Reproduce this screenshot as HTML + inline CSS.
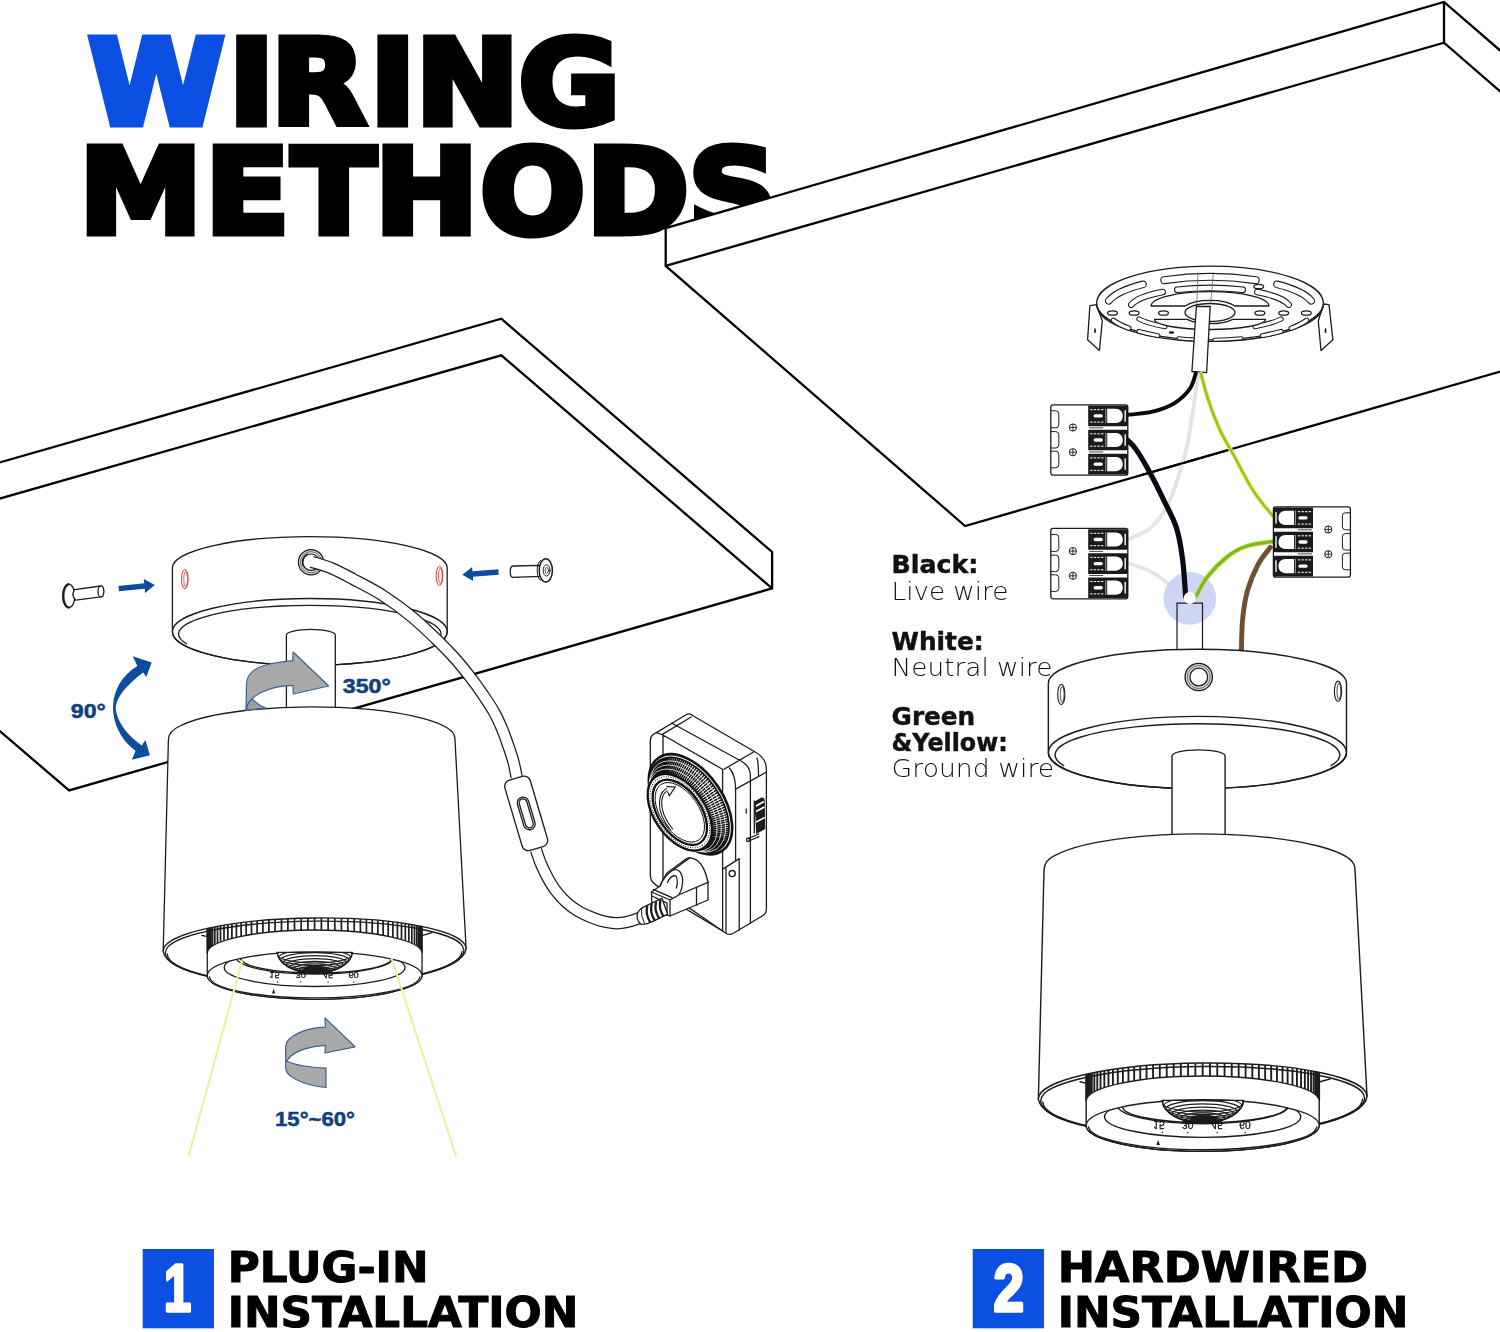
<!DOCTYPE html>
<html lang="en"><head><meta charset="utf-8"><title>Wiring Methods</title>
<style>
html,body{margin:0;padding:0;background:#fff;}
body{width:1500px;height:1332px;overflow:hidden;font-family:"Liberation Sans","DejaVu Sans",sans-serif;}
svg{display:block;}
.ln{fill:none;stroke:#1c1c1c;stroke-width:1.3;stroke-linecap:round;stroke-linejoin:round;}
.lw{fill:#fff;stroke:#1c1c1c;stroke-width:1.3;stroke-linecap:round;stroke-linejoin:round;}
.pn{fill:#fff;stroke:#000;stroke-width:2.3;stroke-linejoin:miter;}
.pl{fill:none;stroke:#000;stroke-width:2.3;stroke-linejoin:miter;stroke-linecap:butt;}
</style></head><body>
<svg width="1500" height="1332" viewBox="0 0 1500 1332">
<rect width="1500" height="1332" fill="#fff"/>
<!-- TITLE -->
<defs><linearGradient id="wg" gradientUnits="userSpaceOnUse" x1="0" y1="0" x2="1500" y2="0">
<stop offset="0" stop-color="#0c4fe3"/><stop offset="0.14825" stop-color="#0c4fe3"/><stop offset="0.14825" stop-color="#000"/><stop offset="1" stop-color="#000"/></linearGradient></defs>
<g font-family="'DejaVu Sans','Liberation Sans',sans-serif" font-weight="bold" font-size="118" stroke-width="7" stroke-linejoin="miter" stroke-miterlimit="2">
<text transform="translate(0,124.4) scale(1.05,1)" x="83.81 217.71 257.9 352.19 395.62 493.71" y="0" fill="url(#wg)" stroke="url(#wg)">WIRING</text>
<text transform="translate(0,233.4) scale(1.05,1)" x="75.24 195.29 277.62 356.9 457.24 558.29 655.33" y="0" fill="#000" stroke="#000" style="filter:grayscale(1)">METHODS</text>
</g>

<!-- CEILING PANELS -->
<g id="panel-left">
<path class="pn" d="M-5,463.8 L501.3,318.7 L772.1,552 L772.1,588.4 L69.1,790.4 L-5,727 Z"/>
<path class="pl" d="M-5,500 L501.3,355.3 L772.1,588.4"/>
</g>
<g id="panel-right">
<path class="pn" d="M665.7,228.1 L1444,2 L1510,59 L1510,368.7 L965.1,526 L665.7,265.9 Z"/>
<path class="pl" d="M665.7,265.9 L1444,42.7 L1510,100"/>
<path class="pl" d="M1444,2 L1444,42.7"/>
</g>

<!-- FIXTURE (canopy + stem + lamp head), defined once, used twice -->
<defs>
<clipPath id="ringclip"><ellipse cx="314.65" cy="975.6" rx="107.4" ry="23.7"/></clipPath>
<clipPath id="lensclip"><rect x="270" y="952.2" width="90" height="30"/></clipPath>
<g id="fixture">
<path class="lw" d="M172.4,568 A137.4,31.4 0 0 1 447.2,568 L447.2,631.8 A137.4,33.3 0 0 1 172.4,631.8 Z"/>
<ellipse class="ln" cx="309.8" cy="631.8" rx="137.4" ry="33.3"/>
<path class="ln" d="M186.5,643.8 A131.2,28.7 0 1 1 433.1,643.8"/>
<circle cx="311" cy="562.2" r="12.6" fill="#d9d9d9" stroke="#1c1c1c" stroke-width="1.2"/>
<circle cx="311" cy="562.2" r="10.6" fill="none" stroke="#555" stroke-width="0.8"/>
<circle cx="311" cy="562.2" r="8.2" fill="#fff" stroke="#1c1c1c" stroke-width="1.2"/>
<path class="lw" d="M286.4,635 A24.45,5.6 0 0 1 335.3,635 L335.3,712 L286.4,712 Z"/>
<path class="lw" d="M168.4,740 Q168.4,731 180,726 A143.2,31.5 0 0 1 454.9,738 L466.1,948.7 A151.5,36.8 -0.5 0 1 163.2,951.3 Z"/>
<g transform="rotate(-0.5 314.6 950)">
<path class="ln" d="M163.1,950 A151.5,32 0 0 1 466.1,950"/>
<path class="ln" stroke-width="1" d="M165.6,951 A149,29.8 0 0 1 463.6,951"/>
<path class="ln" stroke-width="1" d="M165.2,951.5 A149.4,34.6 0 0 0 464,951.5"/>
<path class="ln" stroke-width="1" d="M167.2,952.5 A147.4,32.6 0 0 0 462,952.5"/>
</g>
<path class="ln" stroke-width="1" d="M207.7,936.7 L201.7,935.3 M422.7,935.3 L432,932.7"/>
<path d="M207.2,928.4V953.2M207.5,928.3V951.7M208.1,928.2V950.3M209.2,927.9V948.9M210.6,927.6V947.4M212.5,927.2V946.0M214.8,926.8V944.7M217.5,926.3V943.3M220.5,925.7V942.0M224.0,925.1V940.8M227.8,924.5V939.6M231.9,923.9V938.4M236.4,923.3V937.3M241.1,922.7V936.3M246.2,922.0V935.3M251.5,921.5V934.4M257.1,920.9V933.6M262.9,920.4V932.9M268.9,919.9V932.2M275.1,919.4V931.6M281.5,919.1V931.1M287.9,918.7V930.7M294.5,918.5V930.4M301.2,918.2V930.2M307.9,918.1V930.0M314.6,918.0V930.0M321.4,918.0V930.0M328.1,918.0V930.2M334.8,918.1V930.4M341.4,918.3V930.7M347.8,918.5V931.1M354.2,918.8V931.6M360.4,919.1V932.2M366.4,919.5V932.9M372.2,919.9V933.6M377.8,920.4V934.4M383.1,920.9V935.3M388.2,921.4V936.3M392.9,921.9V937.3M397.4,922.5V938.4M401.5,923.0V939.6M405.3,923.6V940.8M408.8,924.1V942.0M411.8,924.6V943.3M414.5,925.1V944.7M416.8,925.5V946.0M418.7,925.8V947.4M420.1,926.1V948.9M421.2,926.3V950.3M421.8,926.5V951.7M422.0,926.5V953.2" fill="none" stroke="#1c1c1c" stroke-width="1.7"/>
<path d="M207.3,930.5 L211.5,928.8 L211.5,947 L207.3,953.2 Z" fill="#1c1c1c"/>
<path d="M422.2,928 L418,926.5 L418,946 L422.2,953.2 Z" fill="#1c1c1c"/>
<path class="lw" stroke-width="1.6" d="M207.25,953.2 A107.4,23.2 0 0 1 422.05,953.2 L422.05,975.6 A107.4,23.7 0 0 1 207.25,975.6 Z"/>
<ellipse class="lw" stroke-width="1.6" cx="314.65" cy="975.6" rx="107.4" ry="23.7"/>
<path class="ln" stroke-width="0.8" d="M209.5,977 A105.2,21.6 0 0 0 419.8,977"/>
<g clip-path="url(#ringclip)">
<ellipse class="ln" cx="314.6" cy="967.5" rx="90.4" ry="19"/>
<path class="ln" stroke-width="2.2" d="M240.6,958 A74,14.7 0 0 0 392.2,958"/>
<path class="ln" stroke-width="0.9" d="M236,957 A79,17 0 0 0 394,957"/>
</g>
<g clip-path="url(#lensclip)">
<ellipse cx="314.8" cy="952" rx="37.6" ry="21.2" fill="#fff" stroke="#1c1c1c" stroke-width="1.2"/>
<ellipse cx="314.8" cy="954.8" rx="37.2" ry="8.2" fill="none" stroke="#1c1c1c" stroke-width="1.1"/>
<ellipse cx="314.8" cy="957.5" rx="36.1" ry="8.0" fill="none" stroke="#1c1c1c" stroke-width="1.1"/>
<ellipse cx="314.8" cy="960.2" rx="34.2" ry="7.5" fill="none" stroke="#1c1c1c" stroke-width="1.1"/>
<ellipse cx="314.8" cy="962.6" rx="31.6" ry="7.0" fill="none" stroke="#1c1c1c" stroke-width="1.1"/>
<ellipse cx="314.8" cy="964.9" rx="28.4" ry="6.3" fill="none" stroke="#1c1c1c" stroke-width="1.1"/>
<ellipse cx="314.8" cy="966.8" rx="24.6" ry="5.4" fill="none" stroke="#1c1c1c" stroke-width="1.1"/>
<ellipse cx="314.8" cy="968.5" rx="20.3" ry="4.5" fill="none" stroke="#1c1c1c" stroke-width="1.1"/>
<ellipse cx="314.8" cy="969.8" rx="15.5" ry="3.4" fill="none" stroke="#1c1c1c" stroke-width="1.1"/>
<ellipse cx="314.8" cy="970.8" rx="10.5" ry="2.3" fill="none" stroke="#1c1c1c" stroke-width="1.1"/>
<ellipse cx="314.8" cy="971.4" rx="5.2" ry="1.2" fill="none" stroke="#1c1c1c" stroke-width="1.1"/>
<ellipse cx="315.5" cy="969.6" rx="13" ry="3.6" fill="#1c1c1c"/>
</g>
<path class="ln" d="M277,952.4 L352.4,952.4"/>
<g font-family="'Liberation Sans',sans-serif" font-size="9.4" fill="#111" stroke="#111" stroke-width="0.25" text-anchor="middle" style="filter:grayscale(1)">
<text transform="translate(274.4,971.6) scale(1,-1)" x="0" y="0">15</text>
<text transform="translate(300.8,971.6) scale(1,-1)" x="0" y="0">30</text>
<text transform="translate(328,971.6) scale(1,-1)" x="0" y="0">45</text>
<text transform="translate(353.6,971.6) scale(1,-1)" x="0" y="0">60</text>
</g>
<circle cx="277.5" cy="982" r="0.7" fill="#1c1c1c"/>
<circle cx="300.8" cy="982" r="0.7" fill="#1c1c1c"/>
<circle cx="328" cy="982" r="0.7" fill="#1c1c1c"/>
<circle cx="353.8" cy="982" r="0.7" fill="#1c1c1c"/>
<path d="M273.6,988.6 L275.2,993.6 L272,993.6 Z" fill="#1c1c1c"/>
</g>
</defs>
<!-- LEFT: plug-in installation -->
<g id="left-scene">
<use href="#fixture"/>
<ellipse cx="184.8" cy="579.1" rx="3.3" ry="9.6" fill="none" stroke="#cf3a3a" stroke-width="1"/>
<ellipse cx="185.60000000000002" cy="579.1" rx="1.8" ry="7.6" fill="none" stroke="#cf3a3a" stroke-width="0.8"/>
<ellipse cx="439.5" cy="575.9" rx="3.3" ry="9.6" fill="none" stroke="#cf3a3a" stroke-width="1"/>
<ellipse cx="440.3" cy="575.9" rx="1.8" ry="7.6" fill="none" stroke="#cf3a3a" stroke-width="0.8"/>
<path d="M242.2,960.4 L188.6,1156.4" stroke="#edf0a2" stroke-width="2.1" fill="none"/>
<path d="M391.4,958 L456.2,1156.4" stroke="#edf0a2" stroke-width="2.1" fill="none"/>
<g fill="#a9a9a9" stroke="#3b6291" stroke-width="1.2" stroke-linejoin="round">
<path d="M247.3,705.3 C248.5,702 250,700 252,698.7 C255,702 260,706 266,708.1 L246,710.2 Z" fill="#9a9fa6"/>
<path d="M246,710.2 L246.5,684 C247,672 258,666 272,663.5 C280,662 287,661.2 292.7,660.7 L293.1,652 L328.7,686 L293.3,694 L293.1,685.3 C283,685.5 270,688 260,693 C253,697 249,701 247.3,705.3 Z"/>
</g>
<g fill="#a9a9a9" stroke="#3b6291" stroke-width="1.2" stroke-linejoin="round">
<path d="M285.7,1061 L285.7,1068.5 C286,1073 290,1076.5 296,1079.5 C304,1083.5 314,1086.5 326,1087.5 L326,1068.1 C312,1067.5 296,1065.5 286.8,1061.3 Z"/>
<path d="M325.4,1027.2 L325,1017.9 L355,1046.8 L325,1053 L325.4,1045.4 C312,1046 298,1050 291,1056 C289,1058 287.5,1060 286.8,1061.3 L285.7,1061 L285.7,1046 C287,1036 305,1028 325.4,1027.2 Z"/>
</g>
<g fill="#0d4da0">
<path d="M132.8,656.2 L151.7,662.5 L146.3,676.9 L143.1,672.4 C128,684 116.5,696 115.7,707.6 C116.5,722 128,736 141.8,745.4 L145.4,740 L149.9,755.3 L131.9,759.8 L135.5,750.8 C120,740 113,722 113,707.6 C113,692 121,676 137.3,666.1 Z"/>
<path transform="translate(118.7,588.6) rotate(-5.7)" d="M0,-2.7 L25.9,-2.7 L25.9,-7 L36.3,0 L25.9,7 L25.9,2.7 L0,2.7 Z"/>
<path transform="translate(498.5,572) rotate(175.7)" d="M0,-2.7 L25.9,-2.7 L25.9,-7 L36.3,0 L25.9,7 L25.9,2.7 L0,2.7 Z"/>
</g>
<g font-family="'Liberation Sans',sans-serif" font-weight="bold" font-size="19.5" fill="#10417f" stroke="#10417f" stroke-width="0.5">
<text x="70.8" y="717.6" textLength="35" lengthAdjust="spacingAndGlyphs">90°</text>
<text x="342.8" y="692.6" textLength="48" lengthAdjust="spacingAndGlyphs">350°</text>
<text x="275" y="1126.4" textLength="80" lengthAdjust="spacingAndGlyphs">15°~60°</text>
</g>
<g class="lw" stroke-width="1.2">
<ellipse cx="68.8" cy="595.9" rx="6" ry="11.7"/>
<path d="M68.2,584.3 A5.9,11.7 0 0 0 68.6,607.5" fill="none" stroke-width="2.3"/>
<path d="M74.6,589.6 L100.9,586 A2.7,5.4 0 0 1 100.9,596.8 L75.8,600.2 Q70.6,595 74.6,589.6 Z"/>
<ellipse cx="100.9" cy="591.4" rx="2.9" ry="5.5"/>
<path d="M540,565.3 L513,566 Q510.2,566.2 510.2,571.7 Q510.2,577.2 513,577.3 L540,576.4 Z"/>
<ellipse cx="545.8" cy="570.4" rx="6.6" ry="11.7" stroke-width="1.5"/>
<ellipse cx="546.6" cy="570.4" rx="3.4" ry="5.6" stroke-width="1"/>
<ellipse cx="546.8" cy="570.4" rx="1.7" ry="2.8" stroke-width="0.8"/>
<path d="M540.6,560.3 A5,10.6 0 0 0 540.6,580.4" fill="none" stroke-width="1"/>
</g>
<path d="M311.7,561.8 C315.1,562.9 325.0,565.6 332.0,568.5 C339.0,571.4 345.2,574.9 353.7,579.4 C362.2,583.9 373.2,589.3 383.0,595.6 C392.8,601.9 402.8,609.3 412.2,617.1 C421.6,624.9 432.5,635.6 439.6,642.5 C446.7,649.4 450.0,652.9 455.0,658.5 C460.0,664.1 464.8,670.1 469.4,676.0 C474.0,681.9 478.4,688.0 482.5,694.0 C486.6,700.0 490.8,706.1 494.1,712.1 C497.4,718.1 500.0,724.0 502.5,730.0 C505.0,736.0 507.3,742.8 509.1,748.1 C510.9,753.4 512.2,757.2 513.5,762.0 C514.8,766.8 516.1,774.5 516.6,777.0" fill="none" stroke="#1c1c1c" stroke-width="12.4" stroke-linecap="butt"/>
<path d="M311.7,561.8 C315.1,562.9 325.0,565.6 332.0,568.5 C339.0,571.4 345.2,574.9 353.7,579.4 C362.2,583.9 373.2,589.3 383.0,595.6 C392.8,601.9 402.8,609.3 412.2,617.1 C421.6,624.9 432.5,635.6 439.6,642.5 C446.7,649.4 450.0,652.9 455.0,658.5 C460.0,664.1 464.8,670.1 469.4,676.0 C474.0,681.9 478.4,688.0 482.5,694.0 C486.6,700.0 490.8,706.1 494.1,712.1 C497.4,718.1 500.0,724.0 502.5,730.0 C505.0,736.0 507.3,742.8 509.1,748.1 C510.9,753.4 512.2,757.2 513.5,762.0 C514.8,766.8 516.1,774.5 516.6,777.0" fill="none" stroke="#fff" stroke-width="9.9" stroke-linecap="round"/>
<path d="M536.0,850.0 C536.8,852.3 539.0,859.3 541.0,864.0 C543.0,868.7 545.5,873.9 548.0,878.4 C550.5,882.9 552.9,887.0 556.0,891.0 C559.1,895.0 562.7,899.1 566.4,902.4 C570.1,905.7 573.7,908.5 578.0,911.0 C582.3,913.5 587.7,915.9 592.0,917.6 C596.3,919.4 600.0,920.6 604.0,921.5 C608.0,922.4 612.2,923.1 616.0,923.2 C619.8,923.3 623.2,922.8 627.0,922.0 C630.8,921.2 637.0,918.9 639.0,918.3" fill="none" stroke="#1c1c1c" stroke-width="12.4" stroke-linecap="butt"/>
<path d="M536.0,850.0 C536.8,852.3 539.0,859.3 541.0,864.0 C543.0,868.7 545.5,873.9 548.0,878.4 C550.5,882.9 552.9,887.0 556.0,891.0 C559.1,895.0 562.7,899.1 566.4,902.4 C570.1,905.7 573.7,908.5 578.0,911.0 C582.3,913.5 587.7,915.9 592.0,917.6 C596.3,919.4 600.0,920.6 604.0,921.5 C608.0,922.4 612.2,923.1 616.0,923.2 C619.8,923.3 623.2,922.8 627.0,922.0 C630.8,921.2 637.0,918.9 639.0,918.3" fill="none" stroke="#fff" stroke-width="9.9" stroke-linecap="round"/>
<path d="M303.6,566.5 A8.8,8.8 0 0 1 308,553.9" fill="none" stroke="#1c1c1c" stroke-width="1.2"/>
<g transform="translate(526.2,813.4) rotate(-16.5)">
<rect class="lw" x="-13.2" y="-36.6" width="26.4" height="73.2" rx="6.5" ry="6.5"/>
<rect class="lw" x="-5.8" y="-16.8" width="11.6" height="33.6" rx="5.8" ry="5.8"/>
<rect class="ln" x="-3.9" y="-14.9" width="7.8" height="29.8" rx="3.9" ry="3.9" stroke-width="0.9"/>
</g>
</g>
<!-- TIMER + PLUG -->
<g id="timer">
<path class="lw" stroke-width="1.4" d="M650.3,741 Q650.3,735 656.4,732.6 L687,714.3 Q690,712.8 693,715.8 L755.6,752.3 Q766.4,758.5 766.4,769 L766.4,909 Q766.4,913.5 762.6,915.8 L733,933.5 Q729,935.5 725.1,932.7 L655.7,884.9 Q650.3,881 650.3,875 Z"/>
<path class="ln" stroke-width="1.2" d="M662.4,734.4 L691.2,717 M663,735 L663,889.5 M656.4,732.6 L663,735 L722.5,769.3 M672,723.3 L741,761 Q750.4,766 750.4,776 L750.4,923 M722.6,769.5 L722.6,931 M724,769.2 L753.5,752 M735.6,789.1 L766.1,772.3 M729.3,768 Q735.6,775 735.6,789.1 L735.6,861 M723.2,868.9 L739.2,858.6 L739.2,930 M757,758 Q758.5,762 758.5,776.5"/>
<circle class="ln" cx="732.2" cy="873.6" r="3.1" stroke-width="1.1"/>
<path class="ln" stroke-width="2" d="M687,909.6 L721,930"/>
<path class="ln" stroke-width="1" d="M726,868 L726,932.6"/>
<path d="M754.5,801.5 L761.5,797.5 Q764.5,797 764.8,801 L765.2,829 L756.2,834 Z" fill="#1c1c1c"/>
<path d="M756,806 L764,801.5 M756,811.5 L764.5,807 M756.2,822 L764.8,817.5" stroke="#fff" stroke-width="1.6" fill="none"/>
<path class="ln" stroke-width="1.1" d="M754.3,801 L754.3,833 M748.2,838.5 L758.8,834 M748.8,841 L759,836.6"/>
<ellipse class="ln" cx="748" cy="839.8" rx="1.5" ry="1.9" stroke-width="1"/>
<path class="ln" stroke-width="0.9" d="M746.2,809 L746.2,813"/>
<g>
<ellipse cx="690.5" cy="804.2" rx="56.3" ry="32.6" transform="rotate(55.6 690.5 804.2)" fill="#fff" stroke="#111" stroke-width="2.6"/>
<ellipse cx="689.4" cy="805.0" rx="53.6" ry="31" transform="rotate(55.6 689.4 805.0)" fill="#fff" stroke="#111" stroke-width="1.6"/>
<path d="M704.1,847.8L719.7,849.2M703.0,848.5L718.3,850.1M701.8,849.1L716.9,850.8M700.5,849.6L715.3,851.4M699.2,850.0L713.7,851.9M697.8,850.3L712.1,852.3M696.4,850.5L710.3,852.5M694.9,850.6L708.5,852.6M693.4,850.6L706.7,852.5M691.9,850.5L704.8,852.4M690.3,850.2L702.9,852.1M688.7,849.9L700.9,851.6M687.1,849.5L698.9,851.1M685.4,848.9L696.9,850.4M683.8,848.3L694.8,849.6M682.1,847.6L692.8,848.7M680.4,846.7L690.7,847.6M678.7,845.8L688.6,846.5M677.1,844.8L686.5,845.2M675.4,843.7L684.5,843.8M673.7,842.5L682.4,842.3M672.1,841.2L680.4,840.7M670.5,839.9L678.4,839.0M668.9,838.5L676.4,837.2M667.3,837.0L674.5,835.3M665.8,835.4L672.6,833.4M664.3,833.8L670.7,831.3M662.8,832.1L668.9,829.2M661.4,830.3L667.2,827.1M660.1,828.5L665.5,824.8M658.8,826.7L663.9,822.5M657.5,824.8L662.3,820.2M656.3,822.9L660.8,817.8M655.2,821.0L659.4,815.4M654.2,819.0L658.1,812.9M653.2,817.0L656.9,810.5M652.3,815.0L655.7,808.0M651.5,813.0L654.7,805.5M650.7,811.0L653.7,803.0M650.0,809.0L652.9,800.5M649.4,807.0L652.1,798.1M648.9,805.1L651.5,795.6M648.5,803.1L650.9,793.2M648.2,801.2L650.5,790.8M647.9,799.3L650.2,788.4M647.7,797.4L649.9,786.1M647.7,795.6L649.8,783.9M647.7,793.8L649.8,781.7M647.8,792.1L649.9,779.5M648.0,790.4L650.1,777.5M648.2,788.8L650.4,775.5M648.6,787.2L650.8,773.6M649.0,785.7L651.4,771.7M649.6,784.3L652.0,770.0M650.2,783.0L652.7,768.4M650.9,781.8L653.6,766.8M651.7,780.6L654.5,765.4M652.5,779.5L655.5,764.1M653.4,778.5L656.6,762.9M654.4,777.6L657.9,761.8M655.5,776.8L659.1,760.8M656.6,776.1L660.5,759.9M657.8,775.5L662.0,759.2M659.1,775.0L663.5,758.6M660.4,774.6L665.1,758.1M661.8,774.3L666.8,757.8M663.2,774.1L668.5,757.5M664.7,774.0L670.3,757.4M666.2,774.0L672.2,757.5M667.7,774.1L674.1,757.7M669.3,774.4L676.0,758.0M670.9,774.7L678.0,758.4M672.5,775.1L680.0,758.9M674.2,775.7L682.0,759.6M675.8,776.3L684.0,760.4M677.5,777.0L686.1,761.4M679.2,777.9L688.2,762.4M680.9,778.8L690.3,763.6M682.5,779.8L692.3,764.8M684.2,780.9L694.4,766.2M685.9,782.1L696.4,767.7M687.5,783.4L698.5,769.3M689.1,784.7L700.5,771.0M690.7,786.1L702.5,772.8M692.3,787.6L704.4,774.7M693.8,789.2L706.3,776.6M695.3,790.8L708.2,778.7M696.8,792.5L710.0,780.8M698.2,794.3L711.7,783.0M699.5,796.1L713.4,785.2M700.8,797.9L715.0,787.5M702.1,799.8L716.6,789.8M703.3,801.7L718.0,792.2M704.4,803.6L719.4,794.6M705.4,805.6L720.7,797.1M706.4,807.6L722.0,799.5M707.3,809.6L723.1,802.0M708.1,811.6L724.2,804.5M708.9,813.6L725.1,807.0M709.6,815.6L726.0,809.5M710.2,817.6L726.7,812.0M710.7,819.5L727.4,814.4M711.1,821.5L727.9,816.8M711.4,823.4L728.4,819.2M711.7,825.3L728.7,821.6M711.9,827.2L728.9,823.9M711.9,829.0L729.0,826.2M711.9,830.8L729.1,828.4M711.8,832.5L729.0,830.5M711.6,834.2L728.8,832.6M711.4,835.8L728.4,834.6M711.0,837.4L728.0,836.5M710.6,838.9L727.5,838.3M710.0,840.3L726.9,840.0M709.4,841.6L726.1,841.7M708.7,842.8L725.3,843.2M707.9,844.0L724.4,844.6M707.1,845.1L723.3,846.0M706.2,846.1L722.2,847.2M705.2,847.0L721.0,848.3" fill="none" stroke="#111" stroke-width="1.5"/>
<ellipse cx="682.7" cy="810.1" rx="46.2" ry="27.1" transform="rotate(55.6 682.7 810.1)" fill="none" stroke="#fff" stroke-width="0.7"/>
<ellipse cx="685.1" cy="808.3" rx="48.8" ry="28.5" transform="rotate(55.6 685.1 808.3)" fill="none" stroke="#fff" stroke-width="0.7"/>
<ellipse cx="687.5" cy="806.5" rx="51.5" ry="29.9" transform="rotate(55.6 687.5 806.5)" fill="none" stroke="#fff" stroke-width="0.7"/>
<ellipse cx="679.8" cy="812.3" rx="43" ry="25.5" transform="rotate(55.6 679.8 812.3)" fill="#fff" stroke="#111" stroke-width="2.3"/>
<ellipse cx="679.8" cy="812.3" rx="40" ry="23.5" transform="rotate(55.6 679.8 812.3)" fill="none" stroke="#111" stroke-width="1" stroke-dasharray="0.9 1.5"/>
<ellipse cx="679.8" cy="812.3" rx="36.7" ry="21.3" transform="rotate(55.6 679.8 812.3)" fill="none" stroke="#111" stroke-width="2.3"/>
<ellipse cx="679.8" cy="812.3" rx="33.6" ry="19.2" transform="rotate(55.6 679.8 812.3)" fill="none" stroke="#111" stroke-width="0.9"/>
<path d="M672,830 C664.5,821 660,810.5 660.6,801.5 C661,794.5 664.5,789.8 670,788.6" fill="none" stroke="#111" stroke-width="3.3"/>
<path d="M672,830 C664.5,821 660,810.5 660.6,801.5 C661,794.5 664.5,789.8 670,788.6" fill="none" stroke="#fff" stroke-width="1.2"/>
<path d="M666.5,786.6 L675.2,787 L669.4,795.8 L667.6,791.6" fill="#fff" stroke="#111" stroke-width="1.1" stroke-linejoin="miter"/>
</g>
<g class="lw" stroke-width="1.2">
<path d="M651.5,892 L660,886 Q663.5,878 667,873 L686,859 Q690.5,856 698,861 Q704.5,866.5 708,882 L708,900 L670,916 L667,915 L651.8,906.5 Z"/>
<path fill="none" d="M660,886 Q664,876 673,870 Q681,868 682.6,879 Q683,888 679,894.5 M667.5,882.5 Q671,874.5 676,876 Q678.5,881 676.3,888 M673,870 L690,857.6 M670,900 L679.5,894.5 L708,882.4 M696.5,887.6 L696.5,905.2 M670,900 L670,916 M651.5,892 L670,900 M653.2,889.4 L672,897.6 M652,896 L667,903.2 L667,915"/>
</g>
<g class="lw" stroke-width="1.2">
<path d="M637.6,913 Q640,908.5 645,906.4 L662,898.4 L667.6,914.2 L652,921.8 Q646,925 640.8,924.2 Q635.6,919.6 637.6,913 Z"/>
<path fill="none" d="M647.2,906.6 Q645.2,914 650,921.8 M651.6,904.6 Q649.6,912 654.4,919.8 M656,902.6 Q654,910 658.8,917.8 M660.4,900.6 Q658.4,908 663.2,915.8" stroke-width="2.3"/>
<path fill="none" d="M641.5,909 Q640.5,916 644.5,923.4" stroke-width="1"/>
</g>
</g>
<!-- RIGHT: hardwired installation - bracket, wires, connectors -->
<defs><g id="conn">
<rect x="0.6" y="0.6" width="77" height="70.4" rx="2.2" fill="#fff" stroke="#1c1c1c" stroke-width="1.3"/>
<path d="M0.6,6.6 L5.5,6.6 Q8.6,6.6 8.6,9.6 L8.6,20.6 Q8.6,23.6 5.5,23.6 L0.6,23.6" fill="none" stroke="#1c1c1c" stroke-width="1"/>
<path d="M0.6,27.4 L5.5,27.4 Q8.6,27.4 8.6,30.4 L8.6,40.8 Q8.6,43.8 5.5,43.8 L0.6,43.8" fill="none" stroke="#1c1c1c" stroke-width="1"/>
<path d="M0.6,47 L5.5,47 Q8.6,47 8.6,50 L8.6,60.6 Q8.6,63.6 5.5,63.6 L0.6,63.6" fill="none" stroke="#1c1c1c" stroke-width="1"/>
<circle cx="22.7" cy="23.3" r="3.6" fill="#fff" stroke="#1c1c1c" stroke-width="1"/>
<path d="M19.4,23.3 L26,23.3 M22.7,19.900000000000002 L22.7,26.7" stroke="#1c1c1c" stroke-width="0.9" fill="none"/>
<circle cx="22.7" cy="48" r="3.6" fill="#fff" stroke="#1c1c1c" stroke-width="1"/>
<path d="M19.4,48 L26,48 M22.7,44.6 L22.7,51.4" stroke="#1c1c1c" stroke-width="0.9" fill="none"/>
<path d="M38,1.4 L76,1.4 Q77.8,1.4 77.8,3.4 L77.8,20.0 Q77.8,22.0 76,22.0 L38,22.0 Z" fill="#1a1a1a"/>
<path d="M57,4.6 L66,4.6 Q72.6,5.6 72.6,11.700000000000001 Q72.6,17.799999999999997 66,18.799999999999997 L57,18.799999999999997 Z" fill="#fff"/>
<rect x="74.2" y="5.9" width="1.6" height="11.6" fill="#fff" opacity="0.85"/>
<rect x="43.4" y="10.0" width="9.2" height="3.4" rx="1.6" fill="#fff"/>
<path d="M40,5.5 L54,5.5 M40,17.9 L54,17.9" stroke="#fff" stroke-width="1" stroke-dasharray="2.4 1.2" fill="none"/>
<path d="M55.6,4.4 L55.6,19.0" stroke="#fff" stroke-width="0.6" fill="none"/>
<path d="M38,25.5 L76,25.5 Q77.8,25.5 77.8,27.5 L77.8,44.1 Q77.8,46.1 76,46.1 L38,46.1 Z" fill="#1a1a1a"/>
<path d="M57,28.7 L66,28.7 Q72.6,29.7 72.6,35.8 Q72.6,41.9 66,42.9 L57,42.9 Z" fill="#fff"/>
<rect x="74.2" y="30.0" width="1.6" height="11.6" fill="#fff" opacity="0.85"/>
<rect x="43.4" y="34.1" width="9.2" height="3.4" rx="1.6" fill="#fff"/>
<path d="M40,29.6 L54,29.6 M40,42.0 L54,42.0" stroke="#fff" stroke-width="1" stroke-dasharray="2.4 1.2" fill="none"/>
<path d="M55.6,28.5 L55.6,43.1" stroke="#fff" stroke-width="0.6" fill="none"/>
<path d="M38,49.6 L76,49.6 Q77.8,49.6 77.8,51.6 L77.8,68.2 Q77.8,70.2 76,70.2 L38,70.2 Z" fill="#1a1a1a"/>
<path d="M57,52.800000000000004 L66,52.800000000000004 Q72.6,53.800000000000004 72.6,59.900000000000006 Q72.6,66.0 66,67.0 L57,67.0 Z" fill="#fff"/>
<rect x="74.2" y="54.1" width="1.6" height="11.6" fill="#fff" opacity="0.85"/>
<rect x="43.4" y="58.2" width="9.2" height="3.4" rx="1.6" fill="#fff"/>
<path d="M40,53.7 L54,53.7 M40,66.1 L54,66.1" stroke="#fff" stroke-width="1" stroke-dasharray="2.4 1.2" fill="none"/>
<path d="M55.6,52.6 L55.6,67.2" stroke="#fff" stroke-width="0.6" fill="none"/>
<path d="M39,23.6 L53,23.6" stroke="#1c1c1c" stroke-width="0.8" fill="none"/>
<path d="M39,47.7 L53,47.7" stroke="#1c1c1c" stroke-width="0.8" fill="none"/>
</g></defs>
<g id="bracket">
<path class="lw" stroke-width="1.2" d="M1096.5,304.6 L1089.9,305.7 L1087.6,339.7 L1099.4,350.6 L1102.3,321 Z"/>
<path class="lw" stroke-width="1.2" d="M1323.5,304 L1329,304.6 L1332.9,339.7 L1321,350.6 L1318.3,321 Z"/>
<ellipse cx="1095" cy="330.7" rx="0.9" ry="2.6" fill="#1c1c1c"/><ellipse cx="1325.5" cy="330.7" rx="0.9" ry="2.6" fill="#1c1c1c"/>
<ellipse class="lw" cx="1210" cy="304.6" rx="113.3" ry="36.8" stroke-width="1.1"/>
<ellipse class="lw" cx="1210" cy="303" rx="113.3" ry="36.8" stroke-width="1.2"/>
<path d="M1255.7,280.2 A104.3,31.4 0 0 0 1164.3,280.2" fill="none" stroke="#1c1c1c" stroke-width="8" stroke-linecap="round"/>
<path d="M1311.2,300.8 A104.3,31.4 0 0 0 1277.0,284.3" fill="none" stroke="#1c1c1c" stroke-width="7.6" stroke-linecap="round"/>
<path d="M1143.0,284.3 A104.3,31.4 0 0 0 1108.8,300.8" fill="none" stroke="#1c1c1c" stroke-width="7.6" stroke-linecap="round"/>
<path d="M1113.3,320.2 A104.3,31.4 0 0 0 1128.9,328.2" fill="none" stroke="#1c1c1c" stroke-width="5.2" stroke-linecap="round"/>
<path d="M1138.9,331.4 A104.3,31.4 0 0 0 1157.8,335.6" fill="none" stroke="#1c1c1c" stroke-width="5" stroke-linecap="round"/>
<path d="M1178.6,338.3 A104.3,31.4 0 0 0 1193.7,339.4" fill="none" stroke="#1c1c1c" stroke-width="4.2" stroke-linecap="round"/>
<path d="M1214.5,339.8 A104.3,31.4 0 0 0 1241.4,338.3" fill="none" stroke="#1c1c1c" stroke-width="4.2" stroke-linecap="round"/>
<path d="M1262.2,335.6 A104.3,31.4 0 0 0 1281.1,331.4" fill="none" stroke="#1c1c1c" stroke-width="5" stroke-linecap="round"/>
<path d="M1291.1,328.2 A104.3,31.4 0 0 0 1306.7,320.2" fill="none" stroke="#1c1c1c" stroke-width="5.2" stroke-linecap="round"/>
<path d="M1242.7,289.8 A80.5,21.1 0 0 0 1177.3,289.8" fill="none" stroke="#1c1c1c" stroke-width="6.6" stroke-linecap="round"/>
<path d="M1162.7,292.0 A80.5,21.1 0 0 0 1131.3,304.7" fill="none" stroke="#1c1c1c" stroke-width="6.6" stroke-linecap="round"/>
<path d="M1288.7,304.7 A80.5,21.1 0 0 0 1257.3,292.0" fill="none" stroke="#1c1c1c" stroke-width="6.6" stroke-linecap="round"/>
<path d="M1138.9,319.0 A80.5,21.1 0 0 0 1165.0,326.6" fill="none" stroke="#1c1c1c" stroke-width="5.2" stroke-linecap="round"/>
<path d="M1255.0,326.6 A80.5,21.1 0 0 0 1281.1,319.0" fill="none" stroke="#1c1c1c" stroke-width="5.2" stroke-linecap="round"/>
<path d="M1255.7,280.2 A104.3,31.4 0 0 0 1164.3,280.2" fill="none" stroke="#fff" stroke-width="5.9" stroke-linecap="round"/>
<path d="M1311.2,300.8 A104.3,31.4 0 0 0 1277.0,284.3" fill="none" stroke="#fff" stroke-width="5.5" stroke-linecap="round"/>
<path d="M1143.0,284.3 A104.3,31.4 0 0 0 1108.8,300.8" fill="none" stroke="#fff" stroke-width="5.5" stroke-linecap="round"/>
<path d="M1113.3,320.2 A104.3,31.4 0 0 0 1128.9,328.2" fill="none" stroke="#fff" stroke-width="3.1" stroke-linecap="round"/>
<path d="M1138.9,331.4 A104.3,31.4 0 0 0 1157.8,335.6" fill="none" stroke="#fff" stroke-width="2.9" stroke-linecap="round"/>
<path d="M1178.6,338.3 A104.3,31.4 0 0 0 1193.7,339.4" fill="none" stroke="#fff" stroke-width="2.1" stroke-linecap="round"/>
<path d="M1214.5,339.8 A104.3,31.4 0 0 0 1241.4,338.3" fill="none" stroke="#fff" stroke-width="2.1" stroke-linecap="round"/>
<path d="M1262.2,335.6 A104.3,31.4 0 0 0 1281.1,331.4" fill="none" stroke="#fff" stroke-width="2.9" stroke-linecap="round"/>
<path d="M1291.1,328.2 A104.3,31.4 0 0 0 1306.7,320.2" fill="none" stroke="#fff" stroke-width="3.1" stroke-linecap="round"/>
<path d="M1242.7,289.8 A80.5,21.1 0 0 0 1177.3,289.8" fill="none" stroke="#fff" stroke-width="4.5" stroke-linecap="round"/>
<path d="M1162.7,292.0 A80.5,21.1 0 0 0 1131.3,304.7" fill="none" stroke="#fff" stroke-width="4.5" stroke-linecap="round"/>
<path d="M1288.7,304.7 A80.5,21.1 0 0 0 1257.3,292.0" fill="none" stroke="#fff" stroke-width="4.5" stroke-linecap="round"/>
<path d="M1138.9,319.0 A80.5,21.1 0 0 0 1165.0,326.6" fill="none" stroke="#fff" stroke-width="3.1" stroke-linecap="round"/>
<path d="M1255.0,326.6 A80.5,21.1 0 0 0 1281.1,319.0" fill="none" stroke="#fff" stroke-width="3.1" stroke-linecap="round"/>
<ellipse class="lw" cx="1112.5" cy="313" rx="4.9" ry="2.2" stroke-width="1"/>
<ellipse class="lw" cx="1134.1" cy="313" rx="4.9" ry="2.2" stroke-width="1"/>
<ellipse class="lw" cx="1163.5" cy="313" rx="4.9" ry="2.2" stroke-width="1"/>
<ellipse class="lw" cx="1259.9" cy="313" rx="4.9" ry="2.2" stroke-width="1"/>
<ellipse class="lw" cx="1283.7" cy="313" rx="4.9" ry="2.2" stroke-width="1"/>
<ellipse class="lw" cx="1306.3" cy="313" rx="4.9" ry="2.2" stroke-width="1"/>
<ellipse class="lw" cx="1258.7" cy="286.5" rx="4.9" ry="2.2" stroke-width="1"/>
<ellipse cx="1171.5" cy="332.5" rx="2.8" ry="1.2" fill="#1c1c1c"/>
<path class="lw" stroke-width="1.1" d="M1151.1,306 A58.9,14.3 0 0 1 1268.9,306 L1234.9,306 A28.3,10.9 0 0 0 1185.1,306 Z"/>
<path class="lw" stroke-width="1.1" d="M1154.5,319.3 L1187.3,319.3 A28.3,10.9 0 0 0 1232.7,319.3 L1265.5,319.3 A55.5,10.2 0 0 1 1154.5,319.3 Z"/>
<ellipse class="lw" cx="1210" cy="312.5" rx="25" ry="9" stroke-width="1.2"/>
<path d="M1198,272.5 L1196.8,304 M1213.4,272.5 L1210.6,304" fill="none" stroke="#555" stroke-width="0.7"/>
<path class="lw" stroke-width="1.2" d="M1196.4,306.5 L1210.2,306.5 L1206.6,372.6 L1191.9,371.5 Z"/>
</g>
<g id="wires">
<path d="M1198.2,374.4 C1197.4,380.0 1195.2,396.4 1193.4,408.1 C1191.6,419.7 1189.8,432.9 1187.4,444.1 C1185.0,455.3 1182.4,464.9 1179.0,475.3 C1175.6,485.7 1171.8,497.8 1167.0,506.6 C1162.2,515.4 1156.5,522.8 1150.1,528.2 C1143.7,533.6 1132.1,537.2 1128.5,539.0" fill="none" stroke="#e4e4e4" stroke-width="3.9" stroke-linecap="round" />
<path d="M1128.0,563.0 C1132.5,564.8 1145.7,568.2 1154.9,573.8 C1164.2,579.5 1179.0,592.9 1183.8,596.7" fill="none" stroke="#e4e4e4" stroke-width="3.9" stroke-linecap="round" />
<path class="pl" d="M1140,475.5 L1230,449.5"/>
</g>
<circle cx="1189.8" cy="598.4" r="26.3" fill="#c6d2f4" opacity="0.88"/>
<g id="wires2">
<path d="M1195.8,373.2 C1194.8,375.8 1193.4,383.8 1189.8,388.8 C1186.2,393.8 1180.4,399.4 1174.2,403.3 C1168.0,407.1 1160.2,409.7 1152.5,411.7 C1144.9,413.6 1132.1,414.3 1128.0,414.8" fill="none" stroke="#0a0a0a" stroke-width="3.9" stroke-linecap="round" />
<path d="M1128.0,440.5 C1129.3,441.9 1132.0,443.5 1135.7,448.9 C1139.4,454.3 1145.3,464.1 1150.1,472.9 C1154.9,481.7 1160.2,492.6 1164.6,501.8 C1169.0,511.0 1173.6,518.6 1176.6,528.2 C1179.6,537.8 1181.1,548.0 1182.6,559.4 C1184.1,570.8 1185.2,590.5 1185.7,596.7" fill="none" stroke="#0a0a14" stroke-width="5.2" stroke-linecap="round" />
<path d="M1201.1,373.9 C1202.2,378.0 1204.7,389.2 1207.8,398.4 C1210.9,407.7 1215.4,420.1 1219.8,429.7 C1224.2,439.3 1229.0,446.5 1234.2,456.1 C1239.4,465.7 1246.3,479.3 1251.1,487.3 C1255.9,495.4 1259.4,499.4 1263.1,504.2 C1266.8,509.0 1271.5,514.2 1273.2,516.2" fill="none" stroke="#d6ea5e" stroke-width="4.2" stroke-linecap="round" />
<path d="M1201.1,373.9 C1202.2,378.0 1204.7,389.2 1207.8,398.4 C1210.9,407.7 1215.4,420.1 1219.8,429.7 C1224.2,439.3 1229.0,446.5 1234.2,456.1 C1239.4,465.7 1246.3,479.3 1251.1,487.3 C1255.9,495.4 1259.4,499.4 1263.1,504.2 C1266.8,509.0 1271.5,514.2 1273.2,516.2" fill="none" stroke="#94c11c" stroke-width="2.2" stroke-linecap="round"/>
<path d="M1195.8,596.7 C1197.8,593.3 1202.6,582.9 1207.8,576.3 C1213.0,569.6 1220.6,562.0 1227.0,557.0 C1233.4,552.0 1238.6,548.8 1246.3,546.2 C1253.9,543.6 1268.7,542.2 1273.2,541.4" fill="none" stroke="#c8e050" stroke-width="4.8" stroke-linecap="round" />
<path d="M1195.8,596.7 C1197.8,593.3 1202.6,582.9 1207.8,576.3 C1213.0,569.6 1220.6,562.0 1227.0,557.0 C1233.4,552.0 1238.6,548.8 1246.3,546.2 C1253.9,543.6 1268.7,542.2 1273.2,541.4" fill="none" stroke="#7db71e" stroke-width="3" stroke-linecap="round"/>
<path d="M1270.3,547.4 C1268.3,550.2 1262.1,557.0 1258.3,564.2 C1254.5,571.4 1250.1,581.5 1247.5,590.7 C1244.9,599.9 1243.6,609.3 1242.6,619.5 C1241.6,629.7 1241.6,646.5 1241.4,651.9" fill="none" stroke="#6f5132" stroke-width="4.9" stroke-linecap="round" />
</g>
<use href="#conn" transform="translate(1050.2,404.2)"/>
<use href="#conn" transform="translate(1050.2,527.8)"/>
<use href="#conn" transform="translate(1351,506.2) scale(-1,1)"/>
<path d="M1177,650 L1177,603.2 L1202.5,603.2 L1202.5,650" fill="none" stroke="#1c1c1c" stroke-width="1.2"/>
<circle cx="1189.8" cy="597.9" r="6" fill="#fff"/>
<!-- RIGHT: hardwired installation fixture -->
<g id="right-fixture">
<use href="#fixture" transform="translate(861.3,67) scale(1.085)"/>
<ellipse cx="1061.3" cy="694.4" rx="3.6" ry="10.2" fill="none" stroke="#1c1c1c" stroke-width="1.1"/>
<ellipse cx="1062.2" cy="694.4" rx="1.9" ry="8" fill="none" stroke="#1c1c1c" stroke-width="0.8"/>
<ellipse cx="1338" cy="691.3" rx="3.6" ry="10.2" fill="none" stroke="#1c1c1c" stroke-width="1.1"/>
<ellipse cx="1338.9" cy="691.3" rx="1.9" ry="8" fill="none" stroke="#1c1c1c" stroke-width="0.8"/>
</g>
<!-- WIRE LABELS -->
<g id="labels" fill="#111" style="filter:grayscale(1)">
<g font-family="'DejaVu Sans','Liberation Sans',sans-serif" font-weight="bold" font-size="24.5" stroke="#111" stroke-width="0.45">
<text x="891.6" y="573.3" textLength="86.8" lengthAdjust="spacingAndGlyphs">Black:</text>
<text x="891.6" y="649.9" textLength="92.1" lengthAdjust="spacingAndGlyphs">White:</text>
<text x="891.6" y="725.3" textLength="83.6" lengthAdjust="spacingAndGlyphs">Green</text>
<text x="891.6" y="751.2" textLength="116.1" lengthAdjust="spacingAndGlyphs">&amp;Yellow:</text>
</g>
<g font-family="'DejaVu Sans','Liberation Sans',sans-serif" font-weight="200" font-size="24.5">
<text x="891.6" y="599.6" textLength="116.7" lengthAdjust="spacingAndGlyphs">Live wire</text>
<text x="891.6" y="676.2" textLength="160.8" lengthAdjust="spacingAndGlyphs">Neutral wire</text>
<text x="891.6" y="777.2" textLength="162.6" lengthAdjust="spacingAndGlyphs">Ground wire</text>
</g>
</g>

<!-- BOTTOM CAPTIONS -->
<g id="captions">
<rect x="142.7" y="1249" width="71.3" height="79.3" fill="#0c4fe3"/>
<rect x="972.7" y="1249" width="71.3" height="79.3" fill="#0c4fe3"/>
<g font-family="'Liberation Sans',sans-serif" font-weight="bold" fill="#fff" stroke="#fff" stroke-width="3.4" stroke-linejoin="round">
<text transform="translate(177.6,1310.6) scale(0.74,1)" text-anchor="middle" font-size="66">1</text>
<text transform="translate(1008.8,1310.6) scale(0.83,1)" text-anchor="middle" font-size="66">2</text>
</g>
<g font-family="'DejaVu Sans','Liberation Sans',sans-serif" font-weight="bold" font-size="42" fill="#000" stroke="#000" stroke-width="1" style="filter:grayscale(1)">
<text x="227.7" y="1282" textLength="200.8" lengthAdjust="spacingAndGlyphs">PLUG-IN</text>
<text x="227.7" y="1327" textLength="350.7" lengthAdjust="spacingAndGlyphs">INSTALLATION</text>
<text x="1057.7" y="1282" textLength="310.4" lengthAdjust="spacingAndGlyphs">HARDWIRED</text>
<text x="1057.7" y="1327" textLength="350.7" lengthAdjust="spacingAndGlyphs">INSTALLATION</text>
</g>
</g>

</svg>
</body></html>
